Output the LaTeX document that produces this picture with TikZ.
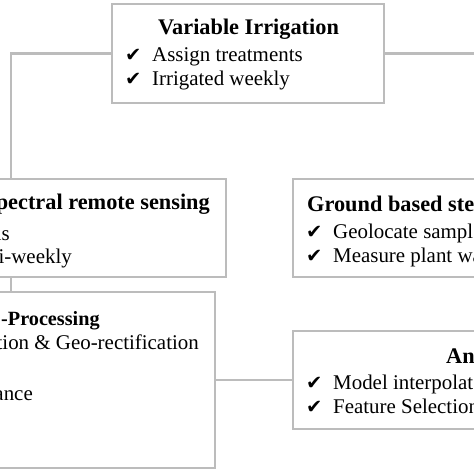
\documentclass[tikz,border=0pt]{standalone}
\usepackage{fontspec}
\setmainfont{Liberation Serif}
\newfontfamily\symfont{DejaVu Sans}
\definecolor{linegray}{RGB}{188,188,188}
\tikzset{
  box/.style={draw=linegray, line width=2.4bp, fill=white, inner sep=0pt, rectangle},
  conn/.style={draw=linegray, line width=2.4bp},
  ttl/.style={inner sep=0pt, font=\fontsize{22.4}{25}\selectfont\bfseries},
  txt/.style={inner sep=0pt, font=\fontsize{21}{24}\selectfont},
  chk/.style={inner sep=0pt, font=\fontsize{19.5}{21}\symfont},
}
\begin{document}
\begin{tikzpicture}[x={(1bp,0)}, y={(0,-1bp)}]
\useasboundingbox (0,0) rectangle (474,474);
\fill[white] (0,0) rectangle (474,474);
\clip (0,0) rectangle (474,474);
% boxes
\node[box, minimum width=272bp, minimum height=99bp] (top) at (248,53.5) {};
\node[box, minimum width=426bp, minimum height=98bp] (rs) at (13,228) {};
\node[box, minimum width=407bp, minimum height=98bp] (gb) at (496.5,228) {};
\node[box, minimum width=415bp, minimum height=176bp] (pre) at (7.5,380) {};
\node[box, minimum width=407bp, minimum height=98bp] (an) at (496.5,380) {};
% connectors
\coordinate (lx) at (11,0);
\coordinate (rend) at (520,53.5);
\draw[conn] (top.west) -| (lx |- rs.north);
\draw[conn] (top.east) -- (rend);
\draw[conn] (lx |- rs.south) -- (lx |- pre.north);
\draw[conn] (pre.east |- an.west) -- (an.west);
% top box text
\node[ttl, anchor=base] (t1) at (248.5,35) {Variable Irrigation};
\node[chk, anchor=base west] (t2c) at (125,62) {✔};
\node[txt, anchor=base west] (t2) at (152,62) {Assign treatments};
\node[chk, anchor=base west] (t3c) at (125,86) {✔};
\node[txt, anchor=base west] (t3) at (152,86) {Irrigated weekly};
% remote sensing text
\node[ttl, anchor=base east] (r1) at (210,210) {pectral remote sensing};
\node[txt, anchor=base east] (r2) at (10,240) {us};
\node[txt, anchor=base east] (r3) at (72,263) {i-weekly};
% ground based text
\node[ttl, anchor=base west] (g1) at (307,212) {Ground based ste};
\node[chk, anchor=base west] (g2c) at (306,238) {✔};
\node[txt, anchor=base west] (g2) at (333,238) {Geolocate sampl};
\node[chk, anchor=base west] (g3c) at (306,262) {✔};
\node[txt, anchor=base west] (g3) at (333,262) {Measure plant wa};
% pre-processing text
\node[ttl, anchor=base west, font=\fontsize{20.3}{23}\selectfont\bfseries] (p1) at (1,325) {-Processing};
\node[txt, anchor=base east] (p2) at (199,349) {tion \& Geo-rectification};
\node[txt, anchor=base east] (p3) at (33,400) {ance};
% analysis text
\node[ttl, anchor=base west] (a1) at (446,363) {An};
\node[chk, anchor=base west] (a2c) at (306,389) {✔};
\node[txt, anchor=base west] (a2) at (333,389) {Model interpolat};
\node[chk, anchor=base west] (a3c) at (306,413) {✔};
\node[txt, anchor=base west] (a3) at (333,413) {Feature Selection};
\end{tikzpicture}
\end{document}
